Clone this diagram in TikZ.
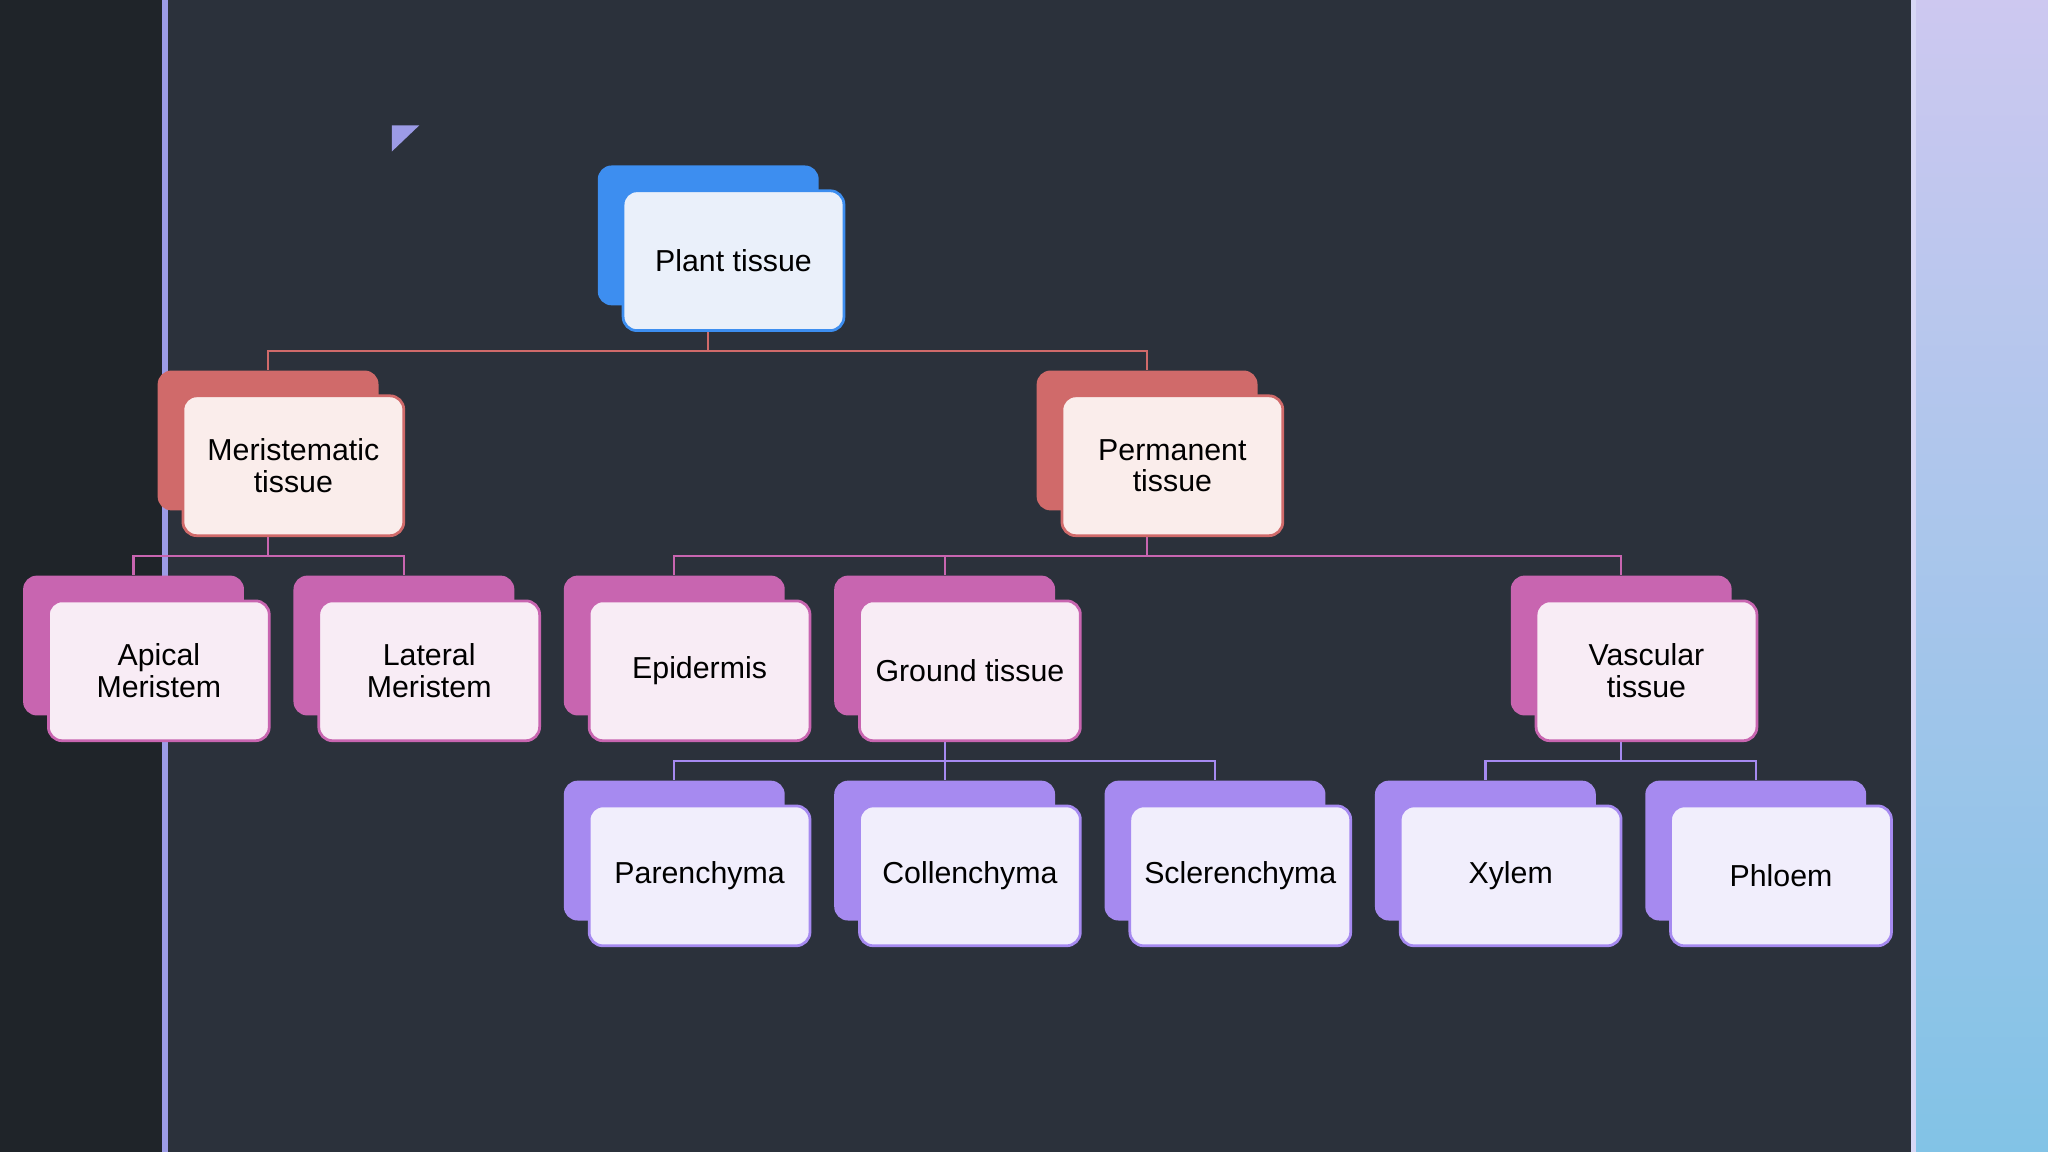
\documentclass[tikz,border=0pt]{standalone}
\usepackage{fontspec}
\setmainfont{Liberation Sans}
\usetikzlibrary{calc}
\definecolor{bgc}{HTML}{2B313B}
\definecolor{leftc}{HTML}{1F2429}
\definecolor{lav}{HTML}{9C9BE6}
\definecolor{rtop}{HTML}{CDC8F0}
\definecolor{rbot}{HTML}{82C3E6}
\definecolor{rline}{HTML}{D7D7F5}
\definecolor{cblue}{HTML}{3D8EF0}
\definecolor{cred}{HTML}{D06A6A}
\definecolor{cpink}{HTML}{C865B0}
\definecolor{cpurp}{HTML}{A68AF0}
\definecolor{fblue}{HTML}{EAF0FA}
\definecolor{fred}{HTML}{FAEDEB}
\definecolor{fpink}{HTML}{F8ECF5}
\definecolor{fpurp}{HTML}{F1EEFC}
\pgfdeclarelayer{bg}\pgfdeclarelayer{lines}
\pgfsetlayers{bg,lines,main}
\tikzset{
  backbox/.style={draw=none,fill=#1,rounded corners=3pt,minimum width=1.69cm,minimum height=1.07cm,anchor=north west,inner sep=0pt},
  frontbox/.style={draw=#1,line width=0.6pt,rounded corners=3pt,minimum width=1.69cm,minimum height=1.07cm,anchor=north west,inner sep=0pt,align=center,font=\fontsize{6.6}{6.9}\selectfont,text=black},
  conn/.style={draw=#1,line width=0.5pt}
}
\newcommand{\tbox}[6]{% name, x, y, color, fill, text
  \node[backbox=#4] (#1b) at (#2,#3) {};
  \node[frontbox=#4,fill=#5] (#1) at ($(#1b.north west)+(19,19)$) {#6};
}
\begin{document}
\begin{tikzpicture}[x=0.01cm,y=-0.01cm]
\useasboundingbox (0,0) rectangle (1568,882);
\begin{pgfonlayer}{bg}
\fill[bgc] (0,0) rectangle (1568,882);
\fill[leftc] (0,0) rectangle (124,882);
\fill[lav] (124,0) rectangle (129,882);
\shade[top color=rtop,bottom color=rbot] (1465,0) rectangle (1568,882);
\fill[rline] (1463,0) rectangle (1467,882);
\fill[lav] (300,96) -- (321,96) -- (300,116) -- cycle;
\end{pgfonlayer}
\tbox{plant}{457}{126}{cblue}{fblue}{Plant tissue}
\tbox{mer}{120}{283}{cred}{fred}{Meristematic\\tissue}
\tbox{perm}{793}{283}{cred}{fred}{Permanent\\tissue}
\tbox{api}{17}{440}{cpink}{fpink}{Apical\\Meristem}
\tbox{lat}{224}{440}{cpink}{fpink}{Lateral\\Meristem}
\tbox{epi}{431}{440}{cpink}{fpink}{Epidermis}
\tbox{gro}{638}{440}{cpink}{fpink}{Ground tissue}
\tbox{vas}{1156}{440}{cpink}{fpink}{Vascular\\tissue}
\tbox{par}{431}{597}{cpurp}{fpurp}{Parenchyma}
\tbox{col}{638}{597}{cpurp}{fpurp}{Collenchyma}
\tbox{scl}{845}{597}{cpurp}{fpurp}{Sclerenchyma}
\tbox{xyl}{1052}{597}{cpurp}{fpurp}{Xylem}
\tbox{phl}{1259}{597}{cpurp}{fpurp}{Phloem}
\begin{pgfonlayer}{lines}
\foreach \c in {mer,perm} \draw[conn=cred] (plantb.south) -- ++(0,34) -| (\c b.north);
\foreach \c in {api,lat} \draw[conn=cpink] (merb.south) -- ++(0,34) -| (\c b.north);
\foreach \c in {epi,gro,vas} \draw[conn=cpink] (permb.south) -- ++(0,34) -| (\c b.north);
\foreach \c in {par,col,scl} \draw[conn=cpurp] (grob.south) -- ++(0,34) -| (\c b.north);
\foreach \c in {xyl,phl} \draw[conn=cpurp] (vasb.south) -- ++(0,34) -| (\c b.north);
\end{pgfonlayer}
\end{tikzpicture}
\end{document}
